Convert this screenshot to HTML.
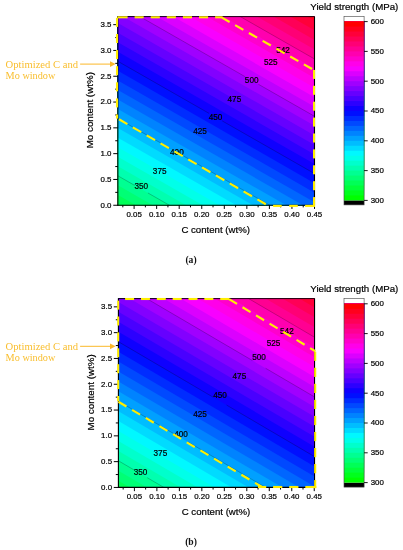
<!DOCTYPE html>
<html><head><meta charset="utf-8"><title>Yield strength contour</title>
<style>html,body{margin:0;padding:0;background:#fff}svg{display:block}</style></head>
<body>
<svg width="403" height="550" viewBox="0 0 403 550">
<style>.s{font-family:"Liberation Sans",Arial,sans-serif;stroke:#000;stroke-width:0.2px;fill:#000}.f{font-family:"Liberation Serif","Times New Roman",serif}</style>
<rect width="403" height="550" fill="#fff"/>
<clipPath id="clip1"><rect x="117.85" y="16.6" width="196.65" height="188.65"/></clipPath>
<g clip-path="url(#clip1)">
<rect x="116.85" y="15.600000000000001" width="198.65" height="190.65" fill="#00ff00"/>
<polygon points="97.85,221.62 334.50,356.75 334.50,-33.40 97.85,-33.40" fill="#00ff00"/>
<polygon points="97.85,212.08 334.50,347.21 334.50,-33.40 97.85,-33.40" fill="#00ff1d"/>
<polygon points="97.85,202.54 334.50,337.67 334.50,-33.40 97.85,-33.40" fill="#00ff3a"/>
<polygon points="97.85,193.00 334.50,328.12 334.50,-33.40 97.85,-33.40" fill="#00ff57"/>
<polygon points="97.85,183.46 334.50,318.58 334.50,-33.40 97.85,-33.40" fill="#00ff75"/>
<polygon points="97.85,173.91 334.50,309.04 334.50,-33.40 97.85,-33.40" fill="#00ff92"/>
<polygon points="97.85,164.37 334.50,299.50 334.50,-33.40 97.85,-33.40" fill="#00ffaf"/>
<polygon points="97.85,154.83 334.50,289.96 334.50,-33.40 97.85,-33.40" fill="#00ffcc"/>
<polygon points="97.85,145.29 334.50,280.42 334.50,-33.40 97.85,-33.40" fill="#00ffe9"/>
<polygon points="97.85,135.75 334.50,270.87 334.50,-33.40 97.85,-33.40" fill="#00f8ff"/>
<polygon points="97.85,126.21 334.50,261.33 334.50,-33.40 97.85,-33.40" fill="#00dbff"/>
<polygon points="97.85,116.66 334.50,251.79 334.50,-33.40 97.85,-33.40" fill="#00bdff"/>
<polygon points="97.85,107.12 334.50,242.25 334.50,-33.40 97.85,-33.40" fill="#00a0ff"/>
<polygon points="97.85,97.58 334.50,232.71 334.50,-33.40 97.85,-33.40" fill="#0083ff"/>
<polygon points="97.85,88.04 334.50,223.17 334.50,-33.40 97.85,-33.40" fill="#0066ff"/>
<polygon points="97.85,78.50 334.50,213.62 334.50,-33.40 97.85,-33.40" fill="#0049ff"/>
<polygon points="97.85,68.96 334.50,204.08 334.50,-33.40 97.85,-33.40" fill="#002cff"/>
<polygon points="97.85,59.41 334.50,194.54 334.50,-33.40 97.85,-33.40" fill="#000fff"/>
<polygon points="97.85,49.87 334.50,185.00 334.50,-33.40 97.85,-33.40" fill="#0f00ff"/>
<polygon points="97.85,40.32 334.50,175.45 334.50,-33.40 97.85,-33.40" fill="#2c00ff"/>
<polygon points="97.85,30.77 334.50,165.90 334.50,-33.40 97.85,-33.40" fill="#4900ff"/>
<polygon points="97.85,21.22 334.50,156.35 334.50,-33.40 97.85,-33.40" fill="#6600ff"/>
<polygon points="97.85,11.67 334.50,146.80 334.50,-33.40 97.85,-33.40" fill="#8300ff"/>
<polygon points="97.85,2.12 334.50,137.25 334.50,-33.40 97.85,-33.40" fill="#a000ff"/>
<polygon points="97.85,-7.43 334.50,127.70 334.50,-33.40 97.85,-33.40" fill="#bd00ff"/>
<polygon points="97.85,-16.98 334.50,118.15 334.50,-33.40 97.85,-33.40" fill="#db00ff"/>
<polygon points="97.85,-26.53 334.50,108.60 334.50,-33.40 97.85,-33.40" fill="#f800ff"/>
<polygon points="97.85,-36.08 334.50,99.05 334.50,-33.40 97.85,-33.40" fill="#ff00e9"/>
<polygon points="97.85,-45.63 334.50,89.50 334.50,-33.40 97.85,-33.40" fill="#ff00cc"/>
<polygon points="97.85,-55.18 334.50,79.95 334.50,-33.40 97.85,-33.40" fill="#ff00af"/>
<polygon points="97.85,-64.73 334.50,70.40 334.50,-33.40 97.85,-33.40" fill="#ff0092"/>
<polygon points="97.85,-74.28 334.50,60.85 334.50,-33.40 97.85,-33.40" fill="#ff0075"/>
<polygon points="97.85,-83.83 334.50,51.30 334.50,-33.40 97.85,-33.40" fill="#ff0057"/>
<polygon points="97.85,-93.38 334.50,41.75 334.50,-33.40 97.85,-33.40" fill="#ff003a"/>
<polygon points="97.85,-102.93 334.50,32.20 334.50,-33.40 97.85,-33.40" fill="#ff001d"/>
<polygon points="97.85,-112.48 334.50,22.65 334.50,-33.40 97.85,-33.40" fill="#ff0000"/>
<line x1="97.85" y1="164.37" x2="134.70" y2="185.41" stroke="#000" stroke-opacity="0.42" stroke-width="0.55"/>
<line x1="147.90" y1="192.95" x2="334.50" y2="299.50" stroke="#000" stroke-opacity="0.42" stroke-width="0.55"/>
<line x1="97.85" y1="107.12" x2="170.30" y2="148.49" stroke="#000" stroke-opacity="0.42" stroke-width="0.55"/>
<line x1="183.50" y1="156.03" x2="334.50" y2="242.25" stroke="#000" stroke-opacity="0.42" stroke-width="0.55"/>
<line x1="97.85" y1="49.87" x2="209.00" y2="113.34" stroke="#000" stroke-opacity="0.42" stroke-width="0.55"/>
<line x1="222.20" y1="120.88" x2="334.50" y2="185.00" stroke="#000" stroke-opacity="0.42" stroke-width="0.55"/>
<line x1="97.85" y1="-7.43" x2="245.10" y2="76.65" stroke="#000" stroke-opacity="0.42" stroke-width="0.55"/>
<line x1="258.30" y1="84.19" x2="334.50" y2="127.70" stroke="#000" stroke-opacity="0.42" stroke-width="0.55"/>
<line x1="97.85" y1="-64.73" x2="334.50" y2="70.40" stroke="#000" stroke-opacity="0.42" stroke-width="0.55"/>
</g>
<text x="141.3" y="189.2" font-size="8.2" text-anchor="middle" fill="#111" class="s">350</text>
<text x="159.7" y="173.5" font-size="8.2" text-anchor="middle" fill="#111" class="s">375</text>
<text x="176.9" y="154.8" font-size="8.2" text-anchor="middle" fill="#111" class="s">400</text>
<text x="200.0" y="133.9" font-size="8.2" text-anchor="middle" fill="#111" class="s">425</text>
<text x="215.6" y="119.6" font-size="8.2" text-anchor="middle" fill="#111" class="s">450</text>
<text x="234.4" y="101.7" font-size="8.2" text-anchor="middle" fill="#111" class="s">475</text>
<text x="251.7" y="82.8" font-size="8.2" text-anchor="middle" fill="#111" class="s">500</text>
<text x="270.8" y="65.1" font-size="8.2" text-anchor="middle" fill="#111" class="s">525</text>
<text x="283.0" y="52.9" font-size="8.2" text-anchor="middle" fill="#111" class="s">542</text>
<line x1="117.85" y1="16.6" x2="314.5" y2="16.6" stroke="#000" stroke-width="0.9"/>
<line x1="314.5" y1="16.6" x2="314.5" y2="205.25" stroke="#000" stroke-width="1.1"/>
<line x1="117.85" y1="16.200000000000003" x2="117.85" y2="205.85" stroke="#000" stroke-width="1.1"/>
<line x1="117.35" y1="205.25" x2="315.0" y2="205.25" stroke="#000" stroke-width="1.2"/>
<line x1="113.25" y1="205.25" x2="117.85" y2="205.25" stroke="#000" stroke-width="1"/>
<text x="111.5" y="207.65" font-size="7.9" text-anchor="end" fill="#111" class="s">0.0</text>
<line x1="115.25" y1="192.35" x2="117.85" y2="192.35" stroke="#000" stroke-width="1"/>
<line x1="113.25" y1="179.45" x2="117.85" y2="179.45" stroke="#000" stroke-width="1"/>
<text x="111.5" y="181.85" font-size="7.9" text-anchor="end" fill="#111" class="s">0.5</text>
<line x1="115.25" y1="166.55" x2="117.85" y2="166.55" stroke="#000" stroke-width="1"/>
<line x1="113.25" y1="153.65" x2="117.85" y2="153.65" stroke="#000" stroke-width="1"/>
<text x="111.5" y="156.05" font-size="7.9" text-anchor="end" fill="#111" class="s">1.0</text>
<line x1="115.25" y1="140.75" x2="117.85" y2="140.75" stroke="#000" stroke-width="1"/>
<line x1="113.25" y1="127.85" x2="117.85" y2="127.85" stroke="#000" stroke-width="1"/>
<text x="111.5" y="130.25" font-size="7.9" text-anchor="end" fill="#111" class="s">1.5</text>
<line x1="115.25" y1="114.95" x2="117.85" y2="114.95" stroke="#000" stroke-width="1"/>
<line x1="113.25" y1="102.05" x2="117.85" y2="102.05" stroke="#000" stroke-width="1"/>
<text x="111.5" y="104.45" font-size="7.9" text-anchor="end" fill="#111" class="s">2.0</text>
<line x1="115.25" y1="89.15" x2="117.85" y2="89.15" stroke="#000" stroke-width="1"/>
<line x1="113.25" y1="76.25" x2="117.85" y2="76.25" stroke="#000" stroke-width="1"/>
<text x="111.5" y="78.65" font-size="7.9" text-anchor="end" fill="#111" class="s">2.5</text>
<line x1="115.25" y1="63.35" x2="117.85" y2="63.35" stroke="#000" stroke-width="1"/>
<line x1="113.25" y1="50.45" x2="117.85" y2="50.45" stroke="#000" stroke-width="1"/>
<text x="111.5" y="52.85" font-size="7.9" text-anchor="end" fill="#111" class="s">3.0</text>
<line x1="115.25" y1="37.55" x2="117.85" y2="37.55" stroke="#000" stroke-width="1"/>
<line x1="113.25" y1="24.65" x2="117.85" y2="24.65" stroke="#000" stroke-width="1"/>
<text x="111.5" y="27.05" font-size="7.9" text-anchor="end" fill="#111" class="s">3.5</text>
<line x1="122.82" y1="205.25" x2="122.82" y2="207.35" stroke="#000" stroke-width="1"/>
<line x1="134.10" y1="205.25" x2="134.10" y2="208.95" stroke="#000" stroke-width="1"/>
<text x="134.10" y="217.25" font-size="7.9" text-anchor="middle" fill="#111" class="s">0.05</text>
<line x1="145.38" y1="205.25" x2="145.38" y2="207.35" stroke="#000" stroke-width="1"/>
<line x1="156.65" y1="205.25" x2="156.65" y2="208.95" stroke="#000" stroke-width="1"/>
<text x="156.65" y="217.25" font-size="7.9" text-anchor="middle" fill="#111" class="s">0.10</text>
<line x1="167.93" y1="205.25" x2="167.93" y2="207.35" stroke="#000" stroke-width="1"/>
<line x1="179.20" y1="205.25" x2="179.20" y2="208.95" stroke="#000" stroke-width="1"/>
<text x="179.20" y="217.25" font-size="7.9" text-anchor="middle" fill="#111" class="s">0.15</text>
<line x1="190.47" y1="205.25" x2="190.47" y2="207.35" stroke="#000" stroke-width="1"/>
<line x1="201.75" y1="205.25" x2="201.75" y2="208.95" stroke="#000" stroke-width="1"/>
<text x="201.75" y="217.25" font-size="7.9" text-anchor="middle" fill="#111" class="s">0.20</text>
<line x1="213.02" y1="205.25" x2="213.02" y2="207.35" stroke="#000" stroke-width="1"/>
<line x1="224.30" y1="205.25" x2="224.30" y2="208.95" stroke="#000" stroke-width="1"/>
<text x="224.30" y="217.25" font-size="7.9" text-anchor="middle" fill="#111" class="s">0.25</text>
<line x1="235.57" y1="205.25" x2="235.57" y2="207.35" stroke="#000" stroke-width="1"/>
<line x1="246.85" y1="205.25" x2="246.85" y2="208.95" stroke="#000" stroke-width="1"/>
<text x="246.85" y="217.25" font-size="7.9" text-anchor="middle" fill="#111" class="s">0.30</text>
<line x1="258.12" y1="205.25" x2="258.12" y2="207.35" stroke="#000" stroke-width="1"/>
<line x1="269.40" y1="205.25" x2="269.40" y2="208.95" stroke="#000" stroke-width="1"/>
<text x="269.40" y="217.25" font-size="7.9" text-anchor="middle" fill="#111" class="s">0.35</text>
<line x1="280.68" y1="205.25" x2="280.68" y2="207.35" stroke="#000" stroke-width="1"/>
<line x1="291.95" y1="205.25" x2="291.95" y2="208.95" stroke="#000" stroke-width="1"/>
<text x="291.95" y="217.25" font-size="7.9" text-anchor="middle" fill="#111" class="s">0.40</text>
<line x1="303.23" y1="205.25" x2="303.23" y2="207.35" stroke="#000" stroke-width="1"/>
<line x1="314.50" y1="205.25" x2="314.50" y2="208.95" stroke="#000" stroke-width="1"/>
<text x="314.50" y="217.25" font-size="7.9" text-anchor="middle" fill="#111" class="s">0.45</text>
<text x="215.7" y="232.7" font-size="9.6" text-anchor="middle" textLength="68.6" lengthAdjust="spacingAndGlyphs" class="s">C content (wt%)</text>
<text transform="translate(93.0,110.2) rotate(-90)" font-size="9.6" text-anchor="middle" textLength="76.2" lengthAdjust="spacingAndGlyphs" class="s">Mo content (wt%)</text>
<line x1="117.40" y1="17.30" x2="127.60" y2="17.30" stroke="#ffee00" stroke-width="2.1"/>
<line x1="134.60" y1="17.30" x2="143.70" y2="17.30" stroke="#ffee00" stroke-width="2.1"/>
<line x1="150.70" y1="17.30" x2="159.80" y2="17.30" stroke="#ffee00" stroke-width="2.1"/>
<line x1="166.80" y1="17.30" x2="175.90" y2="17.30" stroke="#ffee00" stroke-width="2.1"/>
<line x1="182.90" y1="17.30" x2="192.00" y2="17.30" stroke="#ffee00" stroke-width="2.1"/>
<line x1="199.00" y1="17.30" x2="208.10" y2="17.30" stroke="#ffee00" stroke-width="2.1"/>
<line x1="215.10" y1="17.30" x2="222.60" y2="17.30" stroke="#ffee00" stroke-width="2.1"/>
<line x1="222.00" y1="17.67" x2="229.60" y2="22.00" stroke="#ffee00" stroke-width="2.1"/>
<line x1="235.15" y1="25.17" x2="243.35" y2="29.84" stroke="#ffee00" stroke-width="2.1"/>
<line x1="248.90" y1="33.00" x2="257.10" y2="37.68" stroke="#ffee00" stroke-width="2.1"/>
<line x1="262.65" y1="40.84" x2="270.85" y2="45.52" stroke="#ffee00" stroke-width="2.1"/>
<line x1="276.40" y1="48.68" x2="284.60" y2="53.35" stroke="#ffee00" stroke-width="2.1"/>
<line x1="290.15" y1="56.52" x2="298.35" y2="61.19" stroke="#ffee00" stroke-width="2.1"/>
<line x1="303.90" y1="64.35" x2="312.10" y2="69.03" stroke="#ffee00" stroke-width="2.1"/>
<line x1="314.05" y1="69.90" x2="314.05" y2="78.90" stroke="#ffee00" stroke-width="2.1"/>
<line x1="314.05" y1="85.80" x2="314.05" y2="94.80" stroke="#ffee00" stroke-width="2.1"/>
<line x1="314.05" y1="101.70" x2="314.05" y2="110.70" stroke="#ffee00" stroke-width="2.1"/>
<line x1="314.05" y1="117.60" x2="314.05" y2="126.60" stroke="#ffee00" stroke-width="2.1"/>
<line x1="314.05" y1="133.50" x2="314.05" y2="142.50" stroke="#ffee00" stroke-width="2.1"/>
<line x1="314.05" y1="149.40" x2="314.05" y2="158.40" stroke="#ffee00" stroke-width="2.1"/>
<line x1="314.05" y1="165.30" x2="314.05" y2="174.30" stroke="#ffee00" stroke-width="2.1"/>
<line x1="314.05" y1="181.20" x2="314.05" y2="190.20" stroke="#ffee00" stroke-width="2.1"/>
<line x1="314.05" y1="197.10" x2="314.05" y2="206.10" stroke="#ffee00" stroke-width="2.1"/>
<line x1="315.10" y1="205.90" x2="305.10" y2="205.90" stroke="#ffee00" stroke-width="2.1"/>
<line x1="297.80" y1="205.90" x2="289.20" y2="205.90" stroke="#ffee00" stroke-width="2.1"/>
<line x1="281.70" y1="205.90" x2="273.10" y2="205.90" stroke="#ffee00" stroke-width="2.1"/>
<line x1="119.00" y1="119.27" x2="127.40" y2="124.14" stroke="#ffee00" stroke-width="2.1"/>
<line x1="132.84" y1="127.29" x2="141.24" y2="132.15" stroke="#ffee00" stroke-width="2.1"/>
<line x1="146.68" y1="135.30" x2="155.08" y2="140.16" stroke="#ffee00" stroke-width="2.1"/>
<line x1="160.52" y1="143.31" x2="168.92" y2="148.18" stroke="#ffee00" stroke-width="2.1"/>
<line x1="174.36" y1="151.33" x2="182.76" y2="156.19" stroke="#ffee00" stroke-width="2.1"/>
<line x1="188.20" y1="159.34" x2="196.60" y2="164.20" stroke="#ffee00" stroke-width="2.1"/>
<line x1="202.04" y1="167.35" x2="210.44" y2="172.22" stroke="#ffee00" stroke-width="2.1"/>
<line x1="215.88" y1="175.37" x2="224.28" y2="180.23" stroke="#ffee00" stroke-width="2.1"/>
<line x1="229.72" y1="183.38" x2="238.12" y2="188.24" stroke="#ffee00" stroke-width="2.1"/>
<line x1="243.56" y1="191.39" x2="251.96" y2="196.26" stroke="#ffee00" stroke-width="2.1"/>
<line x1="257.40" y1="199.41" x2="265.80" y2="204.27" stroke="#ffee00" stroke-width="2.1"/>
<line x1="117.00" y1="17.90" x2="117.00" y2="26.90" stroke="#ffee00" stroke-width="2.1"/>
<line x1="117.00" y1="34.00" x2="117.00" y2="43.00" stroke="#ffee00" stroke-width="2.1"/>
<line x1="117.00" y1="50.10" x2="117.00" y2="59.10" stroke="#ffee00" stroke-width="2.1"/>
<line x1="117.00" y1="66.20" x2="117.00" y2="75.20" stroke="#ffee00" stroke-width="2.1"/>
<line x1="117.00" y1="82.30" x2="117.00" y2="91.30" stroke="#ffee00" stroke-width="2.1"/>
<line x1="117.00" y1="98.40" x2="117.00" y2="107.40" stroke="#ffee00" stroke-width="2.1"/>
<line x1="117.00" y1="114.50" x2="117.00" y2="118.60" stroke="#ffee00" stroke-width="2.1"/>
<rect x="344.0" y="16.3" width="20.100000000000023" height="5.30" fill="#fff"/>
<rect x="344.0" y="200.40" width="20.100000000000023" height="4.50" fill="#000"/>
<rect x="344.0" y="21.600" width="20.100000000000023" height="178.800" fill="#00ff00"/>
<rect x="344.0" y="21.600" width="20.100000000000023" height="173.833" fill="#00ff1d"/>
<rect x="344.0" y="21.600" width="20.100000000000023" height="168.867" fill="#00ff3a"/>
<rect x="344.0" y="21.600" width="20.100000000000023" height="163.900" fill="#00ff57"/>
<rect x="344.0" y="21.600" width="20.100000000000023" height="158.933" fill="#00ff75"/>
<rect x="344.0" y="21.600" width="20.100000000000023" height="153.967" fill="#00ff92"/>
<rect x="344.0" y="21.600" width="20.100000000000023" height="149.000" fill="#00ffaf"/>
<rect x="344.0" y="21.600" width="20.100000000000023" height="144.033" fill="#00ffcc"/>
<rect x="344.0" y="21.600" width="20.100000000000023" height="139.067" fill="#00ffe9"/>
<rect x="344.0" y="21.600" width="20.100000000000023" height="134.100" fill="#00f8ff"/>
<rect x="344.0" y="21.600" width="20.100000000000023" height="129.133" fill="#00dbff"/>
<rect x="344.0" y="21.600" width="20.100000000000023" height="124.167" fill="#00bdff"/>
<rect x="344.0" y="21.600" width="20.100000000000023" height="119.200" fill="#00a0ff"/>
<rect x="344.0" y="21.600" width="20.100000000000023" height="114.233" fill="#0083ff"/>
<rect x="344.0" y="21.600" width="20.100000000000023" height="109.267" fill="#0066ff"/>
<rect x="344.0" y="21.600" width="20.100000000000023" height="104.300" fill="#0049ff"/>
<rect x="344.0" y="21.600" width="20.100000000000023" height="99.333" fill="#002cff"/>
<rect x="344.0" y="21.600" width="20.100000000000023" height="94.367" fill="#000fff"/>
<rect x="344.0" y="21.600" width="20.100000000000023" height="89.400" fill="#0f00ff"/>
<rect x="344.0" y="21.600" width="20.100000000000023" height="84.433" fill="#2c00ff"/>
<rect x="344.0" y="21.600" width="20.100000000000023" height="79.467" fill="#4900ff"/>
<rect x="344.0" y="21.600" width="20.100000000000023" height="74.500" fill="#6600ff"/>
<rect x="344.0" y="21.600" width="20.100000000000023" height="69.533" fill="#8300ff"/>
<rect x="344.0" y="21.600" width="20.100000000000023" height="64.567" fill="#a000ff"/>
<rect x="344.0" y="21.600" width="20.100000000000023" height="59.600" fill="#bd00ff"/>
<rect x="344.0" y="21.600" width="20.100000000000023" height="54.633" fill="#db00ff"/>
<rect x="344.0" y="21.600" width="20.100000000000023" height="49.667" fill="#f800ff"/>
<rect x="344.0" y="21.600" width="20.100000000000023" height="44.700" fill="#ff00e9"/>
<rect x="344.0" y="21.600" width="20.100000000000023" height="39.733" fill="#ff00cc"/>
<rect x="344.0" y="21.600" width="20.100000000000023" height="34.767" fill="#ff00af"/>
<rect x="344.0" y="21.600" width="20.100000000000023" height="29.800" fill="#ff0092"/>
<rect x="344.0" y="21.600" width="20.100000000000023" height="24.833" fill="#ff0075"/>
<rect x="344.0" y="21.600" width="20.100000000000023" height="19.867" fill="#ff0057"/>
<rect x="344.0" y="21.600" width="20.100000000000023" height="14.900" fill="#ff003a"/>
<rect x="344.0" y="21.600" width="20.100000000000023" height="9.933" fill="#ff001d"/>
<rect x="344.0" y="21.600" width="20.100000000000023" height="4.967" fill="#ff0000"/>
<rect x="344.0" y="16.3" width="20.100000000000023" height="188.60" fill="none" stroke="#444" stroke-width="0.6"/>
<line x1="364.1" y1="200.40" x2="367.70000000000005" y2="200.40" stroke="#000" stroke-width="0.9"/>
<text x="370.7" y="202.80" font-size="7.9" fill="#111" class="s">300</text>
<line x1="364.1" y1="170.60" x2="367.70000000000005" y2="170.60" stroke="#000" stroke-width="0.9"/>
<text x="370.7" y="173.00" font-size="7.9" fill="#111" class="s">350</text>
<line x1="364.1" y1="140.80" x2="367.70000000000005" y2="140.80" stroke="#000" stroke-width="0.9"/>
<text x="370.7" y="143.20" font-size="7.9" fill="#111" class="s">400</text>
<line x1="364.1" y1="111.00" x2="367.70000000000005" y2="111.00" stroke="#000" stroke-width="0.9"/>
<text x="370.7" y="113.40" font-size="7.9" fill="#111" class="s">450</text>
<line x1="364.1" y1="81.20" x2="367.70000000000005" y2="81.20" stroke="#000" stroke-width="0.9"/>
<text x="370.7" y="83.60" font-size="7.9" fill="#111" class="s">500</text>
<line x1="364.1" y1="51.40" x2="367.70000000000005" y2="51.40" stroke="#000" stroke-width="0.9"/>
<text x="370.7" y="53.80" font-size="7.9" fill="#111" class="s">550</text>
<line x1="364.1" y1="21.60" x2="367.70000000000005" y2="21.60" stroke="#000" stroke-width="0.9"/>
<text x="370.7" y="24.00" font-size="7.9" fill="#111" class="s">600</text>
<text x="354.3" y="9.6" font-size="9.6" text-anchor="middle" textLength="88.0" lengthAdjust="spacingAndGlyphs" class="s">Yield strength (MPa)</text>
<text x="5.6" y="67.9" font-size="10" fill="#f9be2e" class="f" textLength="72.5" lengthAdjust="spacingAndGlyphs">Optimized C and</text>
<text x="5.6" y="78.7" font-size="10" fill="#f9be2e" class="f" textLength="49.8" lengthAdjust="spacingAndGlyphs">Mo window</text>
<line x1="80.1" y1="64.1" x2="112.6" y2="64.1" stroke="#fbb829" stroke-width="1"/>
<polygon points="115.6,64.1 110.0,61.2 110.0,67.0" fill="#fbb829"/>
<text x="191.0" y="263.1" font-size="9.6" font-weight="bold" text-anchor="middle" fill="#111" class="f">(a)</text>
<clipPath id="clip2"><rect x="118.4" y="298.59999999999997" width="196.15" height="188.85000000000002"/></clipPath>
<g clip-path="url(#clip2)">
<rect x="117.4" y="297.59999999999997" width="198.15" height="190.85000000000002" fill="#00ff00"/>
<polygon points="98.40,508.61 334.55,647.00 334.55,248.60 98.40,248.60" fill="#00ff00"/>
<polygon points="98.40,498.69 334.55,637.07 334.55,248.60 98.40,248.60" fill="#00ff1d"/>
<polygon points="98.40,488.76 334.55,627.15 334.55,248.60 98.40,248.60" fill="#00ff3a"/>
<polygon points="98.40,478.84 334.55,617.22 334.55,248.60 98.40,248.60" fill="#00ff57"/>
<polygon points="98.40,468.91 334.55,607.30 334.55,248.60 98.40,248.60" fill="#00ff75"/>
<polygon points="98.40,458.99 334.55,597.37 334.55,248.60 98.40,248.60" fill="#00ff92"/>
<polygon points="98.40,449.06 334.55,587.45 334.55,248.60 98.40,248.60" fill="#00ffaf"/>
<polygon points="98.40,439.14 334.55,577.52 334.55,248.60 98.40,248.60" fill="#00ffcc"/>
<polygon points="98.40,429.21 334.55,567.60 334.55,248.60 98.40,248.60" fill="#00ffe9"/>
<polygon points="98.40,419.29 334.55,557.67 334.55,248.60 98.40,248.60" fill="#00f8ff"/>
<polygon points="98.40,409.36 334.55,547.75 334.55,248.60 98.40,248.60" fill="#00dbff"/>
<polygon points="98.40,399.44 334.55,537.82 334.55,248.60 98.40,248.60" fill="#00bdff"/>
<polygon points="98.40,389.51 334.55,527.90 334.55,248.60 98.40,248.60" fill="#00a0ff"/>
<polygon points="98.40,379.59 334.55,517.97 334.55,248.60 98.40,248.60" fill="#0083ff"/>
<polygon points="98.40,369.66 334.55,508.05 334.55,248.60 98.40,248.60" fill="#0066ff"/>
<polygon points="98.40,359.74 334.55,498.12 334.55,248.60 98.40,248.60" fill="#0049ff"/>
<polygon points="98.40,349.81 334.55,488.20 334.55,248.60 98.40,248.60" fill="#002cff"/>
<polygon points="98.40,339.89 334.55,478.27 334.55,248.60 98.40,248.60" fill="#000fff"/>
<polygon points="98.40,329.96 334.55,468.35 334.55,248.60 98.40,248.60" fill="#0f00ff"/>
<polygon points="98.40,320.01 334.55,458.40 334.55,248.60 98.40,248.60" fill="#2c00ff"/>
<polygon points="98.40,310.06 334.55,448.45 334.55,248.60 98.40,248.60" fill="#4900ff"/>
<polygon points="98.40,300.11 334.55,438.50 334.55,248.60 98.40,248.60" fill="#6600ff"/>
<polygon points="98.40,290.16 334.55,428.55 334.55,248.60 98.40,248.60" fill="#8300ff"/>
<polygon points="98.40,280.21 334.55,418.60 334.55,248.60 98.40,248.60" fill="#a000ff"/>
<polygon points="98.40,270.26 334.55,408.65 334.55,248.60 98.40,248.60" fill="#bd00ff"/>
<polygon points="98.40,260.31 334.55,398.70 334.55,248.60 98.40,248.60" fill="#db00ff"/>
<polygon points="98.40,250.36 334.55,388.75 334.55,248.60 98.40,248.60" fill="#f800ff"/>
<polygon points="98.40,240.41 334.55,378.80 334.55,248.60 98.40,248.60" fill="#ff00e9"/>
<polygon points="98.40,230.46 334.55,368.85 334.55,248.60 98.40,248.60" fill="#ff00cc"/>
<polygon points="98.40,220.51 334.55,358.90 334.55,248.60 98.40,248.60" fill="#ff00af"/>
<polygon points="98.40,210.56 334.55,348.95 334.55,248.60 98.40,248.60" fill="#ff0092"/>
<polygon points="98.40,200.61 334.55,339.00 334.55,248.60 98.40,248.60" fill="#ff0075"/>
<polygon points="98.40,190.66 334.55,329.05 334.55,248.60 98.40,248.60" fill="#ff0057"/>
<polygon points="98.40,180.71 334.55,319.10 334.55,248.60 98.40,248.60" fill="#ff003a"/>
<polygon points="98.40,170.76 334.55,309.15 334.55,248.60 98.40,248.60" fill="#ff001d"/>
<polygon points="98.40,160.81 334.55,299.20 334.55,248.60 98.40,248.60" fill="#ff0000"/>
<line x1="98.40" y1="449.06" x2="134.00" y2="469.92" stroke="#000" stroke-opacity="0.42" stroke-width="0.55"/>
<line x1="147.20" y1="477.66" x2="334.55" y2="587.45" stroke="#000" stroke-opacity="0.42" stroke-width="0.55"/>
<line x1="98.40" y1="389.51" x2="174.40" y2="434.05" stroke="#000" stroke-opacity="0.42" stroke-width="0.55"/>
<line x1="187.60" y1="441.78" x2="334.55" y2="527.90" stroke="#000" stroke-opacity="0.42" stroke-width="0.55"/>
<line x1="98.40" y1="329.96" x2="213.40" y2="397.35" stroke="#000" stroke-opacity="0.42" stroke-width="0.55"/>
<line x1="226.60" y1="405.09" x2="334.55" y2="468.35" stroke="#000" stroke-opacity="0.42" stroke-width="0.55"/>
<line x1="98.40" y1="270.26" x2="252.40" y2="360.51" stroke="#000" stroke-opacity="0.42" stroke-width="0.55"/>
<line x1="265.60" y1="368.24" x2="334.55" y2="408.65" stroke="#000" stroke-opacity="0.42" stroke-width="0.55"/>
<line x1="98.40" y1="210.56" x2="334.55" y2="348.95" stroke="#000" stroke-opacity="0.42" stroke-width="0.55"/>
</g>
<text x="140.6" y="474.9" font-size="8.2" text-anchor="middle" fill="#111" class="s">350</text>
<text x="160.4" y="455.5" font-size="8.2" text-anchor="middle" fill="#111" class="s">375</text>
<text x="181.0" y="437.0" font-size="8.2" text-anchor="middle" fill="#111" class="s">400</text>
<text x="200.1" y="417.1" font-size="8.2" text-anchor="middle" fill="#111" class="s">425</text>
<text x="220.0" y="398.0" font-size="8.2" text-anchor="middle" fill="#111" class="s">450</text>
<text x="239.4" y="378.9" font-size="8.2" text-anchor="middle" fill="#111" class="s">475</text>
<text x="259.0" y="359.9" font-size="8.2" text-anchor="middle" fill="#111" class="s">500</text>
<text x="273.5" y="346.4" font-size="8.2" text-anchor="middle" fill="#111" class="s">525</text>
<text x="286.9" y="334.2" font-size="8.2" text-anchor="middle" fill="#111" class="s">542</text>
<line x1="118.4" y1="298.59999999999997" x2="314.55" y2="298.59999999999997" stroke="#000" stroke-width="0.9"/>
<line x1="314.55" y1="298.59999999999997" x2="314.55" y2="487.45" stroke="#000" stroke-width="1.1"/>
<line x1="118.4" y1="298.2" x2="118.4" y2="488.05" stroke="#000" stroke-width="1.1"/>
<line x1="117.9" y1="487.45" x2="315.05" y2="487.45" stroke="#000" stroke-width="1.2"/>
<line x1="113.80000000000001" y1="487.45" x2="118.4" y2="487.45" stroke="#000" stroke-width="1"/>
<text x="112.1" y="489.85" font-size="7.9" text-anchor="end" fill="#111" class="s">0.0</text>
<line x1="115.80000000000001" y1="474.55" x2="118.4" y2="474.55" stroke="#000" stroke-width="1"/>
<line x1="113.80000000000001" y1="461.65" x2="118.4" y2="461.65" stroke="#000" stroke-width="1"/>
<text x="112.1" y="464.05" font-size="7.9" text-anchor="end" fill="#111" class="s">0.5</text>
<line x1="115.80000000000001" y1="448.75" x2="118.4" y2="448.75" stroke="#000" stroke-width="1"/>
<line x1="113.80000000000001" y1="435.85" x2="118.4" y2="435.85" stroke="#000" stroke-width="1"/>
<text x="112.1" y="438.25" font-size="7.9" text-anchor="end" fill="#111" class="s">1.0</text>
<line x1="115.80000000000001" y1="422.95" x2="118.4" y2="422.95" stroke="#000" stroke-width="1"/>
<line x1="113.80000000000001" y1="410.05" x2="118.4" y2="410.05" stroke="#000" stroke-width="1"/>
<text x="112.1" y="412.45" font-size="7.9" text-anchor="end" fill="#111" class="s">1.5</text>
<line x1="115.80000000000001" y1="397.15" x2="118.4" y2="397.15" stroke="#000" stroke-width="1"/>
<line x1="113.80000000000001" y1="384.25" x2="118.4" y2="384.25" stroke="#000" stroke-width="1"/>
<text x="112.1" y="386.65" font-size="7.9" text-anchor="end" fill="#111" class="s">2.0</text>
<line x1="115.80000000000001" y1="371.35" x2="118.4" y2="371.35" stroke="#000" stroke-width="1"/>
<line x1="113.80000000000001" y1="358.45" x2="118.4" y2="358.45" stroke="#000" stroke-width="1"/>
<text x="112.1" y="360.85" font-size="7.9" text-anchor="end" fill="#111" class="s">2.5</text>
<line x1="115.80000000000001" y1="345.55" x2="118.4" y2="345.55" stroke="#000" stroke-width="1"/>
<line x1="113.80000000000001" y1="332.65" x2="118.4" y2="332.65" stroke="#000" stroke-width="1"/>
<text x="112.1" y="335.05" font-size="7.9" text-anchor="end" fill="#111" class="s">3.0</text>
<line x1="115.80000000000001" y1="319.75" x2="118.4" y2="319.75" stroke="#000" stroke-width="1"/>
<line x1="113.80000000000001" y1="306.85" x2="118.4" y2="306.85" stroke="#000" stroke-width="1"/>
<text x="112.1" y="309.25" font-size="7.9" text-anchor="end" fill="#111" class="s">3.5</text>
<line x1="123.16" y1="487.45" x2="123.16" y2="489.55" stroke="#000" stroke-width="1"/>
<line x1="134.40" y1="487.45" x2="134.40" y2="491.15" stroke="#000" stroke-width="1"/>
<text x="134.40" y="499.45" font-size="7.9" text-anchor="middle" fill="#111" class="s">0.05</text>
<line x1="145.64" y1="487.45" x2="145.64" y2="489.55" stroke="#000" stroke-width="1"/>
<line x1="156.88" y1="487.45" x2="156.88" y2="491.15" stroke="#000" stroke-width="1"/>
<text x="156.88" y="499.45" font-size="7.9" text-anchor="middle" fill="#111" class="s">0.10</text>
<line x1="168.12" y1="487.45" x2="168.12" y2="489.55" stroke="#000" stroke-width="1"/>
<line x1="179.36" y1="487.45" x2="179.36" y2="491.15" stroke="#000" stroke-width="1"/>
<text x="179.36" y="499.45" font-size="7.9" text-anchor="middle" fill="#111" class="s">0.15</text>
<line x1="190.60" y1="487.45" x2="190.60" y2="489.55" stroke="#000" stroke-width="1"/>
<line x1="201.84" y1="487.45" x2="201.84" y2="491.15" stroke="#000" stroke-width="1"/>
<text x="201.84" y="499.45" font-size="7.9" text-anchor="middle" fill="#111" class="s">0.20</text>
<line x1="213.08" y1="487.45" x2="213.08" y2="489.55" stroke="#000" stroke-width="1"/>
<line x1="224.32" y1="487.45" x2="224.32" y2="491.15" stroke="#000" stroke-width="1"/>
<text x="224.32" y="499.45" font-size="7.9" text-anchor="middle" fill="#111" class="s">0.25</text>
<line x1="235.56" y1="487.45" x2="235.56" y2="489.55" stroke="#000" stroke-width="1"/>
<line x1="246.80" y1="487.45" x2="246.80" y2="491.15" stroke="#000" stroke-width="1"/>
<text x="246.80" y="499.45" font-size="7.9" text-anchor="middle" fill="#111" class="s">0.30</text>
<line x1="258.04" y1="487.45" x2="258.04" y2="489.55" stroke="#000" stroke-width="1"/>
<line x1="269.28" y1="487.45" x2="269.28" y2="491.15" stroke="#000" stroke-width="1"/>
<text x="269.28" y="499.45" font-size="7.9" text-anchor="middle" fill="#111" class="s">0.35</text>
<line x1="280.52" y1="487.45" x2="280.52" y2="489.55" stroke="#000" stroke-width="1"/>
<line x1="291.76" y1="487.45" x2="291.76" y2="491.15" stroke="#000" stroke-width="1"/>
<text x="291.76" y="499.45" font-size="7.9" text-anchor="middle" fill="#111" class="s">0.40</text>
<line x1="303.00" y1="487.45" x2="303.00" y2="489.55" stroke="#000" stroke-width="1"/>
<line x1="314.24" y1="487.45" x2="314.24" y2="491.15" stroke="#000" stroke-width="1"/>
<text x="314.24" y="499.45" font-size="7.9" text-anchor="middle" fill="#111" class="s">0.45</text>
<text x="216.0" y="514.9" font-size="9.6" text-anchor="middle" textLength="68.6" lengthAdjust="spacingAndGlyphs" class="s">C content (wt%)</text>
<text transform="translate(93.5,392.4) rotate(-90)" font-size="9.6" text-anchor="middle" textLength="76.2" lengthAdjust="spacingAndGlyphs" class="s">Mo content (wt%)</text>
<line x1="125.10" y1="299.00" x2="134.10" y2="299.00" stroke="#ffee00" stroke-width="2.1"/>
<line x1="140.95" y1="299.00" x2="149.95" y2="299.00" stroke="#ffee00" stroke-width="2.1"/>
<line x1="156.80" y1="299.00" x2="165.80" y2="299.00" stroke="#ffee00" stroke-width="2.1"/>
<line x1="172.65" y1="299.00" x2="181.65" y2="299.00" stroke="#ffee00" stroke-width="2.1"/>
<line x1="188.50" y1="299.00" x2="197.50" y2="299.00" stroke="#ffee00" stroke-width="2.1"/>
<line x1="204.35" y1="299.00" x2="213.35" y2="299.00" stroke="#ffee00" stroke-width="2.1"/>
<line x1="220.20" y1="299.00" x2="229.20" y2="299.00" stroke="#ffee00" stroke-width="2.1"/>
<line x1="229.00" y1="299.10" x2="237.00" y2="303.93" stroke="#ffee00" stroke-width="2.1"/>
<line x1="242.52" y1="307.27" x2="250.52" y2="312.10" stroke="#ffee00" stroke-width="2.1"/>
<line x1="256.04" y1="315.43" x2="264.04" y2="320.26" stroke="#ffee00" stroke-width="2.1"/>
<line x1="269.56" y1="323.60" x2="277.56" y2="328.43" stroke="#ffee00" stroke-width="2.1"/>
<line x1="283.08" y1="331.76" x2="291.08" y2="336.60" stroke="#ffee00" stroke-width="2.1"/>
<line x1="296.60" y1="339.93" x2="304.60" y2="344.76" stroke="#ffee00" stroke-width="2.1"/>
<line x1="310.12" y1="348.10" x2="315.30" y2="351.23" stroke="#ffee00" stroke-width="2.1"/>
<line x1="315.20" y1="351.70" x2="315.20" y2="360.90" stroke="#ffee00" stroke-width="2.1"/>
<line x1="315.20" y1="367.75" x2="315.20" y2="376.95" stroke="#ffee00" stroke-width="2.1"/>
<line x1="315.20" y1="383.80" x2="315.20" y2="393.00" stroke="#ffee00" stroke-width="2.1"/>
<line x1="315.20" y1="399.85" x2="315.20" y2="409.05" stroke="#ffee00" stroke-width="2.1"/>
<line x1="315.20" y1="415.90" x2="315.20" y2="425.10" stroke="#ffee00" stroke-width="2.1"/>
<line x1="315.20" y1="431.95" x2="315.20" y2="441.15" stroke="#ffee00" stroke-width="2.1"/>
<line x1="315.20" y1="448.00" x2="315.20" y2="457.20" stroke="#ffee00" stroke-width="2.1"/>
<line x1="315.20" y1="464.05" x2="315.20" y2="473.25" stroke="#ffee00" stroke-width="2.1"/>
<line x1="315.20" y1="480.10" x2="315.20" y2="488.20" stroke="#ffee00" stroke-width="2.1"/>
<line x1="316.30" y1="487.00" x2="305.30" y2="487.00" stroke="#ffee00" stroke-width="2.1"/>
<line x1="298.40" y1="487.00" x2="289.20" y2="487.00" stroke="#ffee00" stroke-width="2.1"/>
<line x1="282.30" y1="487.00" x2="273.10" y2="487.00" stroke="#ffee00" stroke-width="2.1"/>
<line x1="266.20" y1="487.00" x2="258.00" y2="487.00" stroke="#ffee00" stroke-width="2.1"/>
<line x1="118.44" y1="401.75" x2="126.44" y2="406.50" stroke="#ffee00" stroke-width="2.1"/>
<line x1="132.10" y1="409.86" x2="140.10" y2="414.61" stroke="#ffee00" stroke-width="2.1"/>
<line x1="145.76" y1="417.97" x2="153.76" y2="422.73" stroke="#ffee00" stroke-width="2.1"/>
<line x1="159.42" y1="426.09" x2="167.42" y2="430.84" stroke="#ffee00" stroke-width="2.1"/>
<line x1="173.08" y1="434.20" x2="181.08" y2="438.95" stroke="#ffee00" stroke-width="2.1"/>
<line x1="186.74" y1="442.32" x2="194.74" y2="447.07" stroke="#ffee00" stroke-width="2.1"/>
<line x1="200.40" y1="450.43" x2="208.40" y2="455.18" stroke="#ffee00" stroke-width="2.1"/>
<line x1="214.06" y1="458.54" x2="222.06" y2="463.30" stroke="#ffee00" stroke-width="2.1"/>
<line x1="227.72" y1="466.66" x2="235.72" y2="471.41" stroke="#ffee00" stroke-width="2.1"/>
<line x1="241.38" y1="474.77" x2="249.38" y2="479.52" stroke="#ffee00" stroke-width="2.1"/>
<line x1="255.04" y1="482.89" x2="262.00" y2="487.02" stroke="#ffee00" stroke-width="2.1"/>
<line x1="118.20" y1="300.60" x2="118.20" y2="309.60" stroke="#ffee00" stroke-width="2.1"/>
<line x1="118.20" y1="316.50" x2="118.20" y2="325.50" stroke="#ffee00" stroke-width="2.1"/>
<line x1="118.20" y1="332.40" x2="118.20" y2="341.40" stroke="#ffee00" stroke-width="2.1"/>
<line x1="118.20" y1="348.30" x2="118.20" y2="357.30" stroke="#ffee00" stroke-width="2.1"/>
<line x1="118.20" y1="364.20" x2="118.20" y2="373.20" stroke="#ffee00" stroke-width="2.1"/>
<line x1="118.20" y1="380.10" x2="118.20" y2="389.10" stroke="#ffee00" stroke-width="2.1"/>
<line x1="118.20" y1="396.00" x2="118.20" y2="401.20" stroke="#ffee00" stroke-width="2.1"/>
<rect x="344.0" y="298.5" width="20.100000000000023" height="5.30" fill="#fff"/>
<rect x="344.0" y="482.60" width="20.100000000000023" height="4.50" fill="#000"/>
<rect x="344.0" y="303.800" width="20.100000000000023" height="178.800" fill="#00ff00"/>
<rect x="344.0" y="303.800" width="20.100000000000023" height="173.833" fill="#00ff1d"/>
<rect x="344.0" y="303.800" width="20.100000000000023" height="168.867" fill="#00ff3a"/>
<rect x="344.0" y="303.800" width="20.100000000000023" height="163.900" fill="#00ff57"/>
<rect x="344.0" y="303.800" width="20.100000000000023" height="158.933" fill="#00ff75"/>
<rect x="344.0" y="303.800" width="20.100000000000023" height="153.967" fill="#00ff92"/>
<rect x="344.0" y="303.800" width="20.100000000000023" height="149.000" fill="#00ffaf"/>
<rect x="344.0" y="303.800" width="20.100000000000023" height="144.033" fill="#00ffcc"/>
<rect x="344.0" y="303.800" width="20.100000000000023" height="139.067" fill="#00ffe9"/>
<rect x="344.0" y="303.800" width="20.100000000000023" height="134.100" fill="#00f8ff"/>
<rect x="344.0" y="303.800" width="20.100000000000023" height="129.133" fill="#00dbff"/>
<rect x="344.0" y="303.800" width="20.100000000000023" height="124.167" fill="#00bdff"/>
<rect x="344.0" y="303.800" width="20.100000000000023" height="119.200" fill="#00a0ff"/>
<rect x="344.0" y="303.800" width="20.100000000000023" height="114.233" fill="#0083ff"/>
<rect x="344.0" y="303.800" width="20.100000000000023" height="109.267" fill="#0066ff"/>
<rect x="344.0" y="303.800" width="20.100000000000023" height="104.300" fill="#0049ff"/>
<rect x="344.0" y="303.800" width="20.100000000000023" height="99.333" fill="#002cff"/>
<rect x="344.0" y="303.800" width="20.100000000000023" height="94.367" fill="#000fff"/>
<rect x="344.0" y="303.800" width="20.100000000000023" height="89.400" fill="#0f00ff"/>
<rect x="344.0" y="303.800" width="20.100000000000023" height="84.433" fill="#2c00ff"/>
<rect x="344.0" y="303.800" width="20.100000000000023" height="79.467" fill="#4900ff"/>
<rect x="344.0" y="303.800" width="20.100000000000023" height="74.500" fill="#6600ff"/>
<rect x="344.0" y="303.800" width="20.100000000000023" height="69.533" fill="#8300ff"/>
<rect x="344.0" y="303.800" width="20.100000000000023" height="64.567" fill="#a000ff"/>
<rect x="344.0" y="303.800" width="20.100000000000023" height="59.600" fill="#bd00ff"/>
<rect x="344.0" y="303.800" width="20.100000000000023" height="54.633" fill="#db00ff"/>
<rect x="344.0" y="303.800" width="20.100000000000023" height="49.667" fill="#f800ff"/>
<rect x="344.0" y="303.800" width="20.100000000000023" height="44.700" fill="#ff00e9"/>
<rect x="344.0" y="303.800" width="20.100000000000023" height="39.733" fill="#ff00cc"/>
<rect x="344.0" y="303.800" width="20.100000000000023" height="34.767" fill="#ff00af"/>
<rect x="344.0" y="303.800" width="20.100000000000023" height="29.800" fill="#ff0092"/>
<rect x="344.0" y="303.800" width="20.100000000000023" height="24.833" fill="#ff0075"/>
<rect x="344.0" y="303.800" width="20.100000000000023" height="19.867" fill="#ff0057"/>
<rect x="344.0" y="303.800" width="20.100000000000023" height="14.900" fill="#ff003a"/>
<rect x="344.0" y="303.800" width="20.100000000000023" height="9.933" fill="#ff001d"/>
<rect x="344.0" y="303.800" width="20.100000000000023" height="4.967" fill="#ff0000"/>
<rect x="344.0" y="298.5" width="20.100000000000023" height="188.60" fill="none" stroke="#444" stroke-width="0.6"/>
<line x1="364.1" y1="482.60" x2="367.70000000000005" y2="482.60" stroke="#000" stroke-width="0.9"/>
<text x="370.7" y="485.00" font-size="7.9" fill="#111" class="s">300</text>
<line x1="364.1" y1="452.80" x2="367.70000000000005" y2="452.80" stroke="#000" stroke-width="0.9"/>
<text x="370.7" y="455.20" font-size="7.9" fill="#111" class="s">350</text>
<line x1="364.1" y1="423.00" x2="367.70000000000005" y2="423.00" stroke="#000" stroke-width="0.9"/>
<text x="370.7" y="425.40" font-size="7.9" fill="#111" class="s">400</text>
<line x1="364.1" y1="393.20" x2="367.70000000000005" y2="393.20" stroke="#000" stroke-width="0.9"/>
<text x="370.7" y="395.60" font-size="7.9" fill="#111" class="s">450</text>
<line x1="364.1" y1="363.40" x2="367.70000000000005" y2="363.40" stroke="#000" stroke-width="0.9"/>
<text x="370.7" y="365.80" font-size="7.9" fill="#111" class="s">500</text>
<line x1="364.1" y1="333.60" x2="367.70000000000005" y2="333.60" stroke="#000" stroke-width="0.9"/>
<text x="370.7" y="336.00" font-size="7.9" fill="#111" class="s">550</text>
<line x1="364.1" y1="303.80" x2="367.70000000000005" y2="303.80" stroke="#000" stroke-width="0.9"/>
<text x="370.7" y="306.20" font-size="7.9" fill="#111" class="s">600</text>
<text x="354.3" y="291.8" font-size="9.6" text-anchor="middle" textLength="88.0" lengthAdjust="spacingAndGlyphs" class="s">Yield strength (MPa)</text>
<text x="5.6" y="350.1" font-size="10" fill="#f9be2e" class="f" textLength="72.5" lengthAdjust="spacingAndGlyphs">Optimized C and</text>
<text x="5.6" y="360.9" font-size="10" fill="#f9be2e" class="f" textLength="49.8" lengthAdjust="spacingAndGlyphs">Mo window</text>
<line x1="80.1" y1="346.3" x2="112.6" y2="346.3" stroke="#fbb829" stroke-width="1"/>
<polygon points="115.6,346.3 110.0,343.4 110.0,349.2" fill="#fbb829"/>
<text x="191.0" y="545.3" font-size="9.6" font-weight="bold" text-anchor="middle" fill="#111" class="f">(b)</text>
</svg>
</body></html>
